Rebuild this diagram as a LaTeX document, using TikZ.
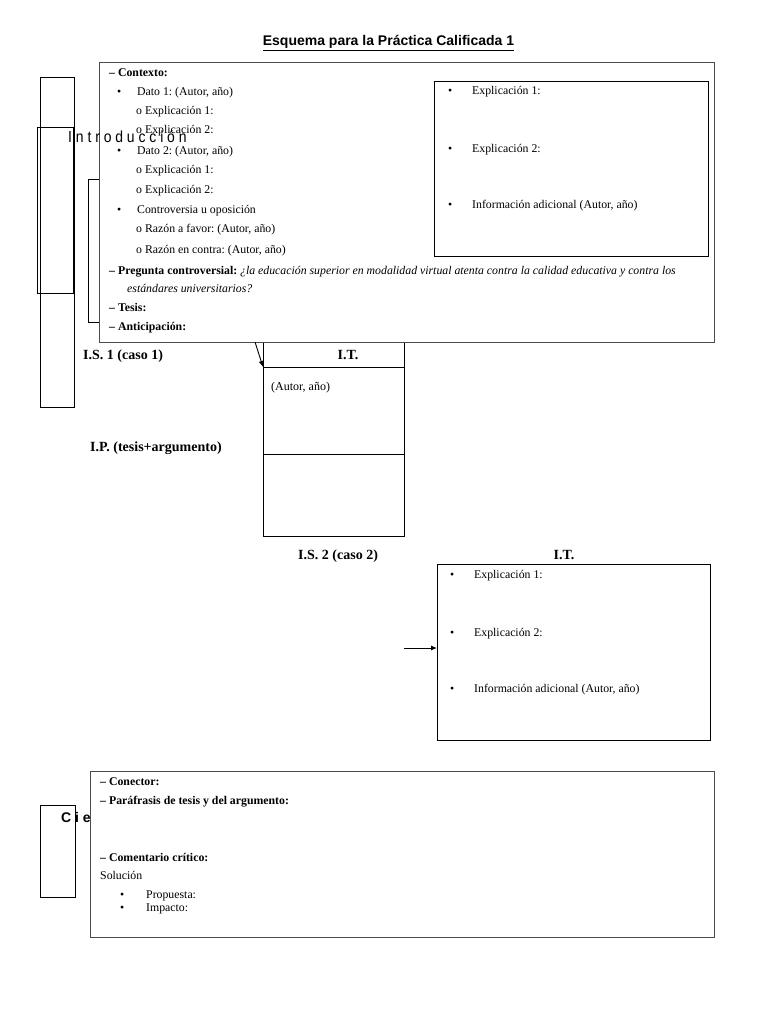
\documentclass[tikz,border=0pt]{standalone}
\usepackage{fontspec}
\setmainfont{Liberation Serif}
\setsansfont{Liberation Sans}
\usetikzlibrary{arrows.meta}
\frenchspacing
\tikzset{
  box/.style={draw=black, line width=1pt, anchor=north west, inner sep=0pt},
  bigbox/.style={draw=black!70, line width=1.4pt, fill=white, anchor=north west, inner sep=0pt},
  txt/.style={anchor=base west, inner sep=0pt, font=\fontsize{11.8}{14}\selectfont},
  bd/.style={txt, font=\fontsize{11.8}{14}\selectfont\bfseries},
  lbl/.style={anchor=base west, inner sep=0pt, font=\fontsize{14}{16}\selectfont\bfseries},
  arr/.style={-{Latex[length=6pt,width=5pt]}, line width=0.9pt},
}
\begin{document}
\begin{tikzpicture}[x=1pt,y=-1pt]
\useasboundingbox (0,0) rectangle (768,1024);
\fill[white] (0,0) rectangle (768,1024);

% title
\node (title) [anchor=base, inner sep=0pt, font=\sffamily\bfseries\fontsize{14}{16}\selectfont] at (388.5,46) {\underline{Esquema para la Práctica Calificada 1}};

% left side rectangles
\node (lefttall) [box, minimum width=34pt, minimum height=330pt] at (40,77) {};
\node (leftintro) [box, minimum width=36pt, minimum height=166pt] at (37,127) {};
\node (leftmid) [box, minimum width=30pt, minimum height=143pt] at (88,179) {};

% middle I.T. box (drawn before main box)
\node (itrow) [box, minimum width=141pt, minimum height=26pt] at (263,341) {};
\node (autrow) [box, minimum width=141pt, minimum height=87pt] at (263,367) {};
\node (emptyrow) [box, minimum width=141pt, minimum height=82pt] at (263,454) {};
\node (auttxt) [txt, font=\fontsize{12}{14}\selectfont] at (271,390) {(Autor, año)};
\node (it1) [lbl, anchor=base] at (348,359.5) {I.T.};

% main box
\node (main) [bigbox, minimum width=615pt, minimum height=280pt] at (99,62) {};
\node (inner) [box, minimum width=274pt, minimum height=175pt] at (434,81) {};

\node (t1) [bd] at (109,77) {– Contexto:};
\node (b1) [txt] at (117,96) {•};
\node (t2) [txt] at (137,96) {Dato 1: (Autor, año)};
\node (t3) [txt] at (136,114.5) {o Explicación 1:};
\node (t4) [txt] at (136,134) {o Explicación 2:};
\node (b2) [txt] at (117,155) {•};
\node (t5) [txt] at (137,155) {Dato 2: (Autor, año)};
\node (t6) [txt] at (136,174) {o Explicación 1:};
\node (t7) [txt] at (136,194) {o Explicación 2:};
\node (b3) [txt] at (117,214) {•};
\node (t8) [txt] at (137,214) {Controversia u oposición};
\node (t9) [txt] at (136,233) {o Razón a favor: (Autor, año)};
\node (t10) [txt] at (136,253) {o Razón en contra: (Autor, año)};
\node (t11) [txt] at (109,274) {\textbf{– Pregunta controversial:} \textit{¿la educación superior en modalidad virtual atenta contra la calidad educativa y contra los}};
\node (t12) [txt] at (127,292) {\textit{estándares universitarios?}};
\node (t13) [bd] at (109,311) {– Tesis:};
\node (t14) [bd] at (109,330) {– Anticipación:};

\node (ib1) [txt] at (448,95) {•};
\node (it2) [txt] at (472,95) {Explicación 1:};
\node (ib2) [txt] at (448,153) {•};
\node (it3) [txt] at (472,153) {Explicación 2:};
\node (ib3) [txt] at (448,209) {•};
\node (it4) [txt] at (472,209) {Información adicional (Autor, año)};

% Introducción label (on top)
\node (intro) [anchor=base west, inner sep=0pt, font=\sffamily\fontsize{16}{18}\selectfont] at (68,142.5) {\scalebox{0.87}[1]{I n t r o d u c c i ó n}};

% arrow into middle box
\coordinate (arrstart) at (255,342);
\draw[arr] (arrstart) -- (autrow.north west);

% labels
\node (is1) [lbl] at (83,359.5) {I.S. 1 (caso 1)};
\node (ip) [lbl] at (90,451.5) {I.P. (tesis+argumento)};
\node (is2) [lbl] at (298,559.5) {I.S. 2 (caso 2)};
\node (it5) [lbl, anchor=base] at (564,559.5) {I.T.};

% lower I.T. box
\node (lowbox) [box, minimum width=273pt, minimum height=176pt] at (437,564) {};
\node (lb1) [txt] at (450,578) {•};
\node (lt1) [txt] at (474,578) {Explicación 1:};
\node (lb2) [txt] at (450,636) {•};
\node (lt2) [txt] at (474,636) {Explicación 2:};
\node (lb3) [txt] at (450,692) {•};
\node (lt3) [txt] at (474,692) {Información adicional (Autor, año)};
\coordinate (arr2start) at (404,648);
\coordinate (arr2end) at (437,648);
\draw[arr] (arr2start) -- (arr2end);

% bottom: Cierre
\node (leftbot) [box, minimum width=35pt, minimum height=92pt] at (40,805) {};
\node (cierre) [anchor=base west, inner sep=0pt, font=\sffamily\bfseries\fontsize{14}{16}\selectfont] at (61,822) {C i e r r e};
\node (botbox) [bigbox, minimum width=624pt, minimum height=166pt] at (90,771) {};
\node (c1) [bd] at (100,785) {– Conector:};
\node (c2) [bd] at (100,804) {– Paráfrasis de tesis y del argumento:};
\node (c3) [bd] at (100,861) {– Comentario crítico:};
\node (c4) [txt] at (100,879) {Solución};
\node (cb1) [txt] at (120,898) {•};
\node (c5) [txt] at (146,898) {Propuesta:};
\node (cb2) [txt] at (120,911) {•};
\node (c6) [txt] at (146,911) {Impacto:};
\end{tikzpicture}
\end{document}
